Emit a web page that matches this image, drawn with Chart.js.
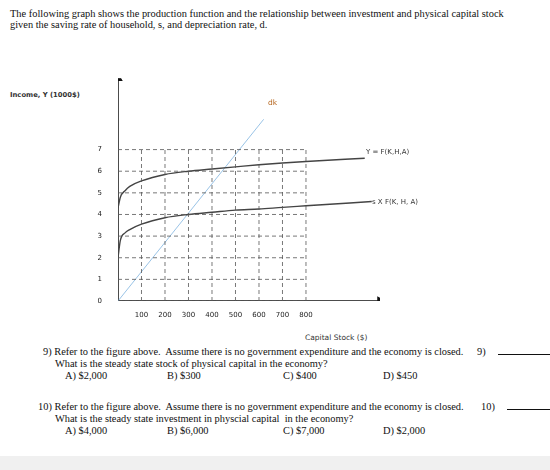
<!DOCTYPE html>
<html><head><meta charset="utf-8">
<script src="https://cdn.jsdelivr.net/npm/chart.js@4"></script>
<style>
body{margin:0;width:550px;height:470px;background:#fff;position:relative;overflow:hidden;font-family:"Liberation Serif",serif;font-size:10.4px;color:#111}
.t{position:absolute;white-space:nowrap}
.s{font-family:"DejaVu Sans",sans-serif;font-size:7px;color:#333}
#wrap{position:absolute;left:90px;top:66px;width:300px;height:265px}
.ul{display:inline-block;width:52px;border-bottom:1px solid #111;margin-left:12px}
#foot{position:absolute;left:0;top:456px;width:550px;height:14px;background:#f0f0f0}
</style></head><body>
<div class="t" style="left:10px;top:8px">The following graph shows the production function and the relationship between investment and physical capital stock</div>
<div class="t" style="left:10px;top:19px">given the saving rate of household, s, and depreciation rate, d.</div>
<div class="t s" style="left:10px;top:91px;font-weight:bold;font-size:6.8px">Income, Y (1000$)</div>
<div id="wrap"><canvas id="c"></canvas></div>
<div class="t s" style="left:268px;top:98px;color:#b5651d;font-size:7.5px">dk</div>
<div class="t s" style="left:366px;top:148px">Y = F(K,H,A)</div>
<div class="t s" style="left:372px;top:198px">s X F(K, H, A)</div>
<div class="t s" style="left:305px;top:333px;font-size:7.5px">Capital Stock ($)</div>
<div class="t" style="left:43px;top:346px">9) Refer to the figure above.&nbsp; Assume there is no government expenditure and the economy is closed.</div>
<div class="t" style="left:477px;top:346px">9)<span class="ul"></span></div>
<div class="t" style="left:55px;top:358px">What is the steady state stock of physical capital in the economy?</div>
<div class="t" style="left:65px;top:370px">A) $2,000</div>
<div class="t" style="left:167px;top:370px">B) $300</div>
<div class="t" style="left:283px;top:370px">C) $400</div>
<div class="t" style="left:383px;top:370px">D) $450</div>
<div class="t" style="left:38px;top:401px">10) Refer to the figure above.&nbsp; Assume there is no government expenditure and the economy is closed.</div>
<div class="t" style="left:481px;top:401px">10)<span class="ul"></span></div>
<div class="t" style="left:55px;top:413px">What is the steady state investment in physcial capital&nbsp; in the economy?</div>
<div class="t" style="left:65px;top:425px">A) $4,000</div>
<div class="t" style="left:167px;top:425px">B) $6,000</div>
<div class="t" style="left:283px;top:425px">C) $7,000</div>
<div class="t" style="left:383px;top:425px">D) $2,000</div>
<div id="foot"></div>
<script>
const xTicks = [100, 200, 300, 400, 500, 600, 700, 800]
const yTicks = [0, 1, 2, 3, 4, 5, 6, 7]
const capital = [0, 10, 30, 50, 100, 200, 300, 400, 500, 600, 700, 800, 1050]
const output = [4.3, 4.8, 5.1, 5.3, 5.55, 5.85, 6.0, 6.1, 6.2, 6.3, 6.38, 6.45, 6.6]
const savedCapital = [0, 10, 30, 50, 100, 200, 300, 400, 500, 600, 700, 800, 1080]
const investment = [2.0, 2.8, 3.15, 3.3, 3.55, 3.85, 4.0, 4.1, 4.2, 4.25, 4.33, 4.4, 4.6]
const depreciation = [[0, 0], [620, 8.4]]
const xMax = 1115, yMax = 10.3

const seg = (a, b) => ({ data: [a, b], borderColor: "#555", borderWidth: 0.8, borderDash: [4, 3], pointRadius: 0 })
const grid = []
yTicks.forEach(v => grid.push(seg({ x: 0, y: v }, { x: 800, y: v })))
xTicks.forEach(v => grid.push(seg({ x: v, y: 0 }, { x: v, y: 7 })))

const curve = (xs, ys) => ({ data: xs.map((x, i) => ({ x, y: ys[i] })), borderColor: "#444", borderWidth: 1.4, pointRadius: 0, cubicInterpolationMode: "monotone" })

new Chart(document.getElementById("c"), {
    type: "scatter",
    data: {
        datasets: [
            ...grid,
            curve(capital, output),
            curve(savedCapital, investment),
            { data: depreciation.map(p => ({ x: p[0], y: p[1] })), borderColor: "#7fb4e0", borderWidth: 0.8, pointRadius: 0 },
            { data: [{ x: 0, y: 0 }, { x: 0, y: yMax }], borderColor: "#111", borderWidth: 1.5, pointRadius: [0, 4], pointStyle: "triangle", backgroundColor: "#111" },
            { data: [{ x: 0, y: 0 }, { x: xMax, y: 0 }], borderColor: "#111", borderWidth: 1.5, pointRadius: [0, 4], pointStyle: "triangle", rotation: 90, backgroundColor: "#111" },
        ].map(d => ({ showLine: true, ...d }))
    },
    options: {
        responsive: true,
        maintainAspectRatio: false,
        animation: false,
        layout: { padding: { top: 6, right: 10 } },
        plugins: { legend: { display: false }, tooltip: { enabled: false } },
        scales: {
            x: {
                type: "linear", min: 0, max: xMax,
                afterFit(s) { s.height = 30 },
                afterBuildTicks(s) { s.ticks = xTicks.map(v => ({ value: v })) },
                grid: { display: false }, border: { display: false },
                ticks: { color: "#222", font: { size: 7, family: "DejaVu Sans" }, maxRotation: 0, padding: 2 }
            },
            y: {
                type: "linear", min: 0, max: yMax,
                afterFit(s) { s.width = 28 },
                afterBuildTicks(s) { s.ticks = yTicks.map(v => ({ value: v })) },
                grid: { display: false }, border: { display: false },
                ticks: { color: "#222", font: { size: 7, family: "DejaVu Sans" }, padding: 8 }
            }
        }
    }
})
</script>
</body></html>
